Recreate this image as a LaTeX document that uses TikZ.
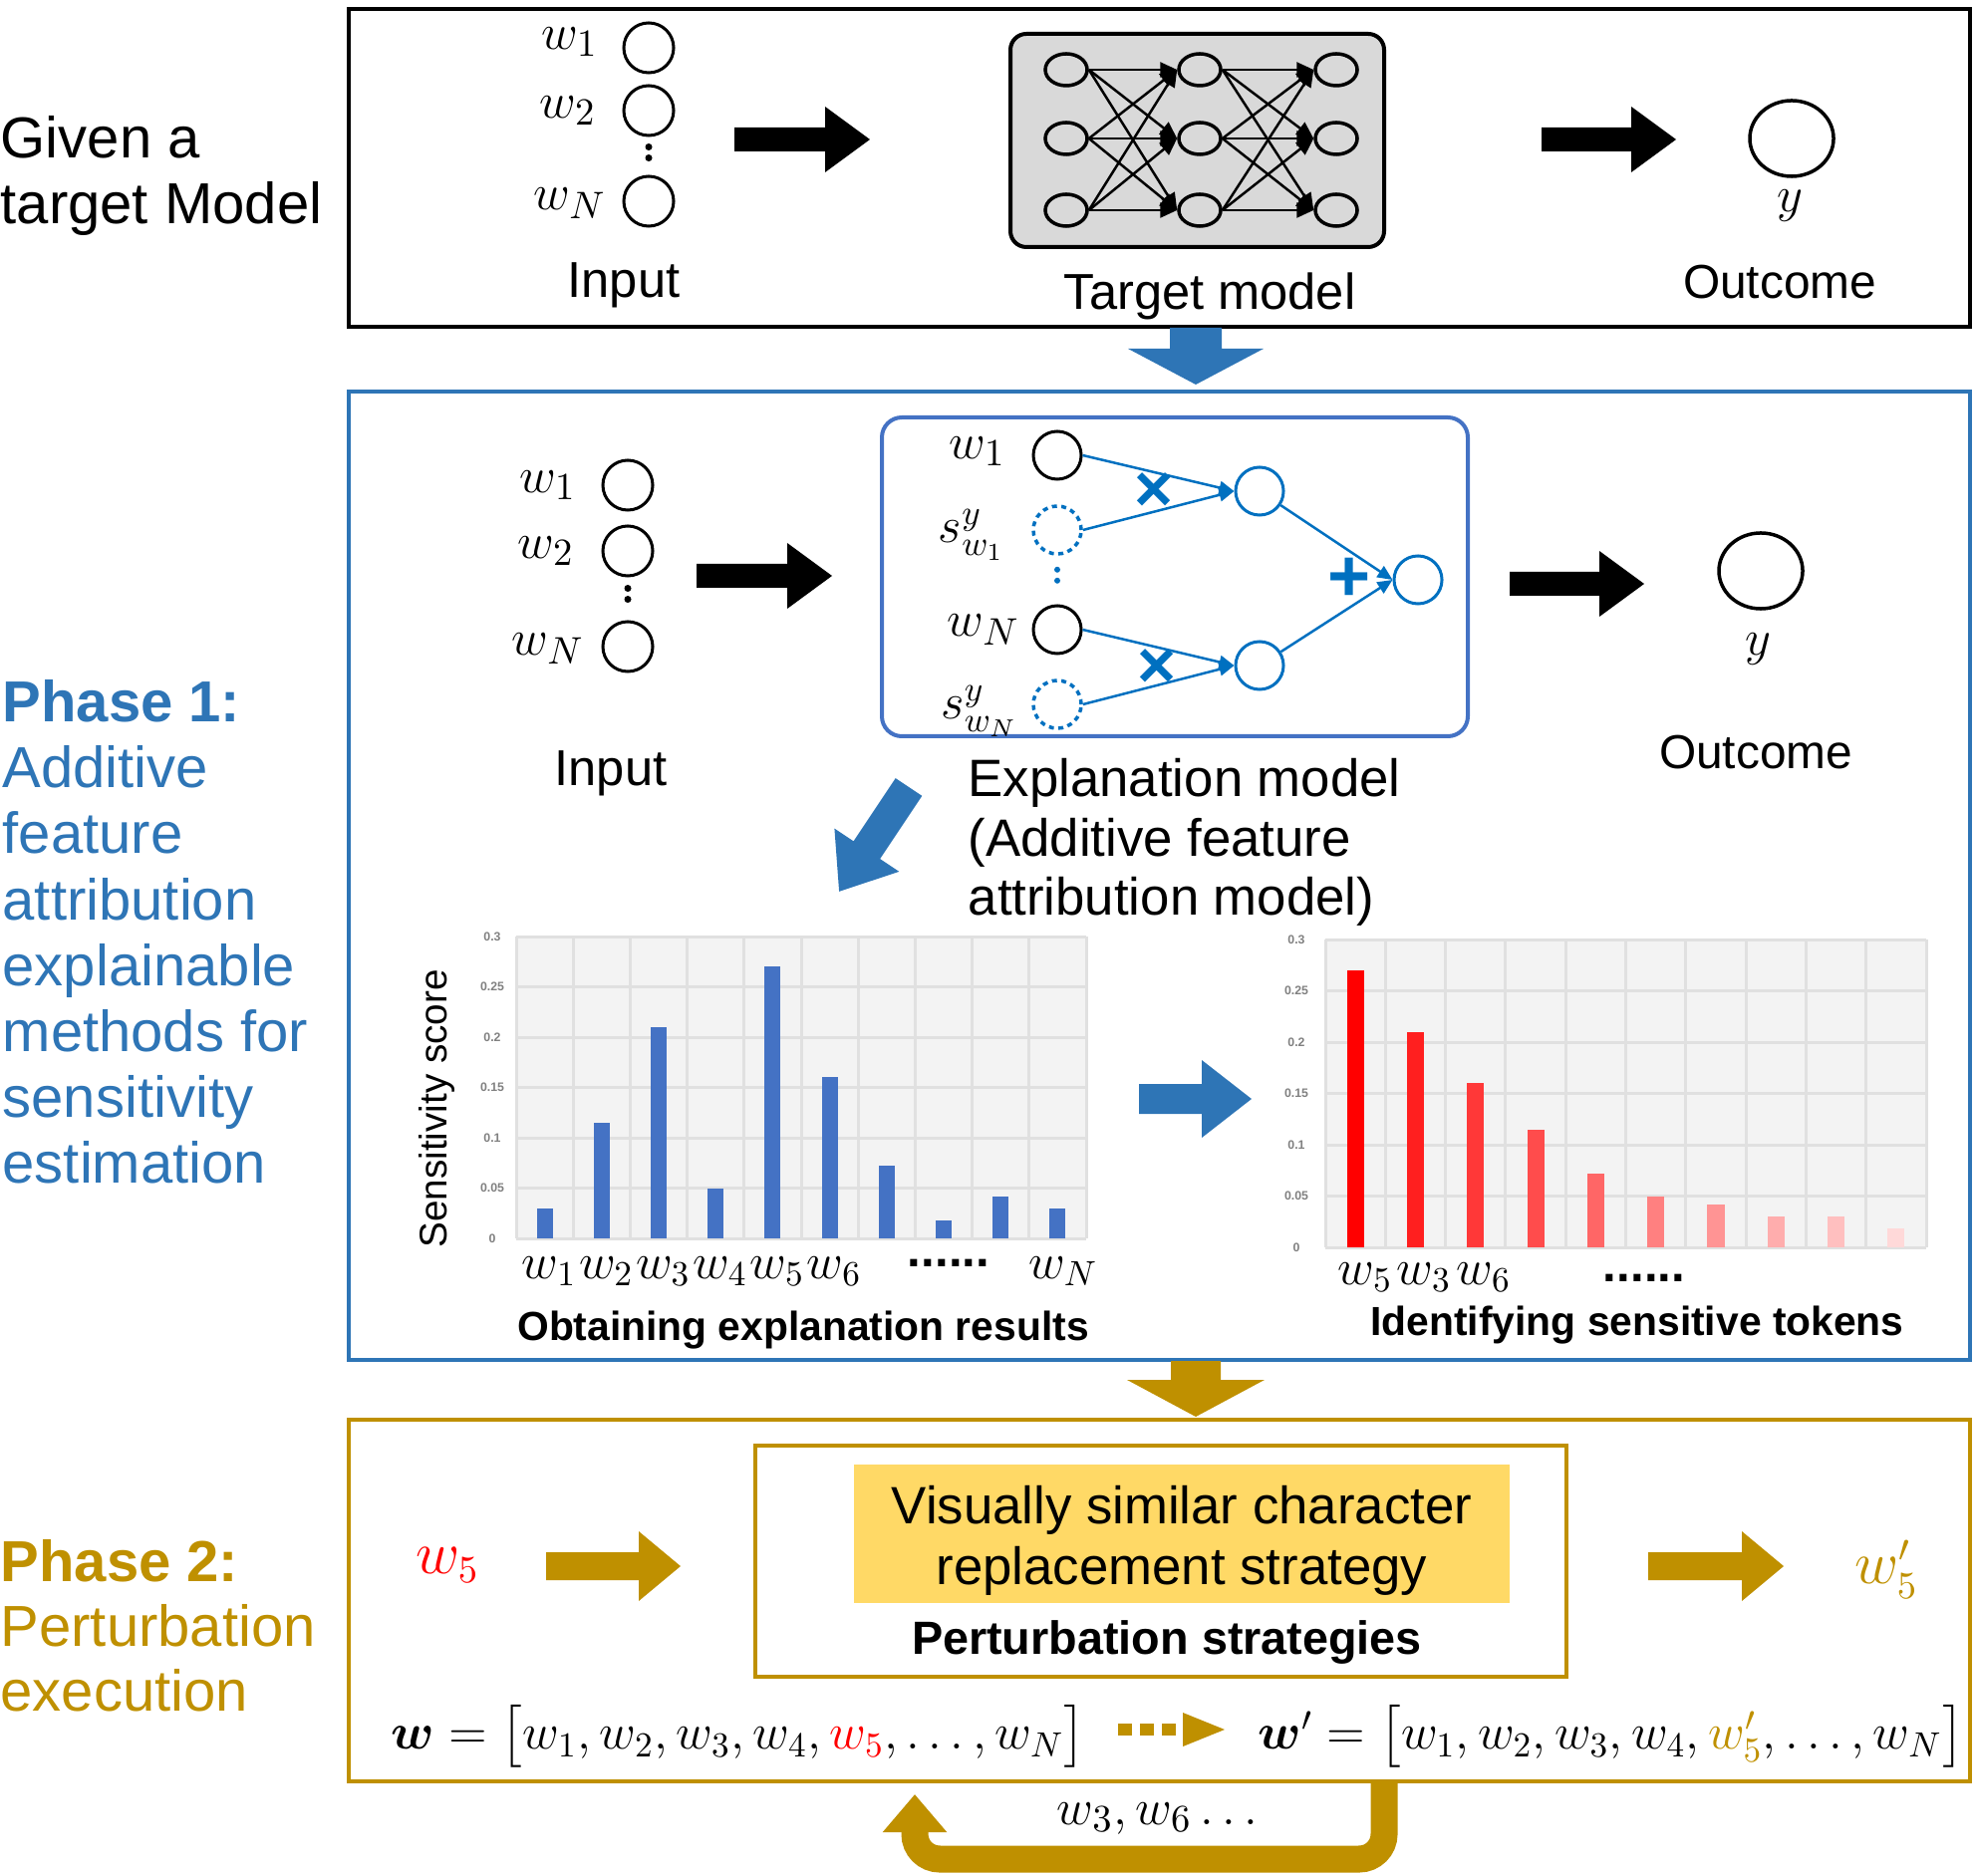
\documentclass[tikz,border=0pt]{standalone}
\usepackage[no-math]{fontspec}
\setmainfont{Liberation Sans}
\usepackage{amsmath,amssymb}
\usetikzlibrary{arrows.meta,positioning,shapes.geometric}

\definecolor{phaseblue}{HTML}{2E75B6}
\definecolor{boxblue}{HTML}{4472C4}
\definecolor{netblue}{HTML}{0070C0}
\definecolor{barblue}{HTML}{4472C4}
\definecolor{gold}{HTML}{BF9000}
\definecolor{stratyellow}{HTML}{FFD966}
\definecolor{netgray}{HTML}{D9D9D9}
\definecolor{chartbg}{HTML}{F3F3F3}
\definecolor{gridgray}{HTML}{E0E0E0}

\tikzset{
  pics/fatarrow/.style n args={4}{code={
    \fill (0,-#2) -- (#1-#4,-#2) -- (#1-#4,-#3) -- (#1,0) -- (#1-#4,#3) -- (#1-#4,#2) -- (0,#2) -- cycle;}}
}

\begin{document}
\begin{tikzpicture}[x=0.01cm,y=-0.01cm,
  every node/.style={inner sep=0pt},
  lbl/.style={font=\fontsize{14.4}{17}\selectfont},
  mlbl/.style={font=\fontsize{15}{18}\selectfont},
  neuron/.style={circle,draw,line width=0.3mm,minimum size=5mm},
  unit/.style={ellipse,draw,line width=0.35mm,minimum width=4.2mm,minimum height=3.2mm},
  xunit/.style={circle,draw=netblue,line width=0.3mm,minimum size=4.8mm},
  sdot/.style={circle,draw=netblue,line width=0.35mm,dash pattern=on 0.5mm off 0.45mm,minimum size=4.8mm},
  netedge/.style={line width=0.25mm,-{Triangle[length=1.7mm,width=1.5mm]}},
  xedge/.style={netblue,line width=0.25mm,-{Triangle[length=1.5mm,width=1.3mm]}},
  dotline/.style={line width=0.7mm,line cap=round,dash pattern=on 0pt off 1.1mm},
  gridline/.style={gridgray,line width=0.3mm},
  ticklbl/.style={gray,font=\fontsize{3.5}{4}\selectfont\bfseries},
  oplbl/.style={text=netblue,font=\fontsize{19}{20}\selectfont\bfseries},
  ylbl/.style={ellipse,draw,line width=0.35mm,minimum width=8.4mm,minimum height=7.6mm}]
\useasboundingbox (0,0) rectangle (1983,1883);

% given a target model
\draw[line width=0.45mm] (350,9) rectangle (1977,328);
\node[anchor=north west,align=left,font=\fontsize{16.5}{18.8}\selectfont] (given) at (0,116) {Given a\\target Model};

\node[neuron] (tw1) at (651,48) {};
\node[neuron] (tw2) at (651,111) {};
\node[neuron] (twN) at (651,202) {};
\draw[dotline] ([yshift=-1mm]tw2.south) -- ([yshift=1mm]twN.north);
\node[mlbl] at (572,42) {$w_1$};
\node[mlbl] at (570,111) {$w_2$};
\node[mlbl] at (572,204) {$w_N$};
\node[lbl] (tinput) at (626,286) {Input};
\pic[black] at (737,140) {fatarrow={136}{12}{33}{45}};

\draw[fill=netgray,line width=0.4mm,rounded corners=1.6mm] (1014,34) rectangle (1389,248);
\foreach \c/\x in {a/1070,b/1204,c/1341}
  \foreach \r/\y in {1/70,2/139,3/211}
    \node[unit] (\c\r) at (\x,\y) {};
\foreach \r in {1,2,3}
  \foreach \s in {1,2,3} {
    \draw[netedge] (a\r.east) -- (b\s.west);
    \draw[netedge] (b\r.east) -- (c\s.west);
  }
\node[lbl] (tmodel) at (1214,297) {Target model};
\pic[black] at (1547,140) {fatarrow={135}{12}{33}{45}};
\node[ylbl] (ty) at (1798,139) {};
\node[mlbl] at (1796,207) {$y$};
\node[font=\fontsize{13.6}{16}\selectfont] (tout) at (1786,283) {Outcome};

\pic[phaseblue,rotate=-90] at (1200,329) {fatarrow={57}{26}{68}{36}};

% phase 1
\draw[phaseblue,line width=0.45mm] (350,393) rectangle (1977,1365);
\node[anchor=north west,align=left,text=phaseblue,font=\fontsize{16.5}{18.8}\selectfont] (phaseone) at (2,682)
  {\textbf{Phase 1:}\\Additive\\feature\\attribution\\explainable\\methods for\\sensitivity\\estimation};

\node[neuron] (pw1) at (630,487) {};
\node[neuron] (pw2) at (630,553) {};
\node[neuron] (pwN) at (630,649) {};
\draw[dotline] ([yshift=-1.1mm]pw2.south) -- ([yshift=1.1mm]pwN.north);
\node[mlbl] at (550,487) {$w_1$};
\node[mlbl] at (548,553) {$w_2$};
\node[mlbl] at (550,651) {$w_N$};
\node[lbl] (pinput) at (613,776) {Input};
\pic[black] at (699,578) {fatarrow={136}{12}{33}{45}};

\draw[boxblue,line width=0.4mm,rounded corners=2mm] (885,419) rectangle (1473,739);
\node[neuron,minimum size=4.8mm] (ew1) at (1061,457) {};
\node[sdot] (es1) at (1061,532) {};
\node[neuron,minimum size=4.8mm] (ewN) at (1061,632) {};
\node[sdot] (esN) at (1061,707) {};
\node[xunit] (em1) at (1264,493) {};
\node[xunit] (em2) at (1264,668) {};
\node[xunit] (eout) at (1423,582) {};
\draw[dotline,netblue,line width=0.6mm] ([yshift=-1.4mm]es1.south) -- ([yshift=1.4mm]ewN.north);
\draw[xedge] (ew1.east) -- (em1.west);
\draw[xedge] (es1.east) -- (em1.west);
\draw[xedge] (ewN.east) -- (em2.west);
\draw[xedge] (esN.east) -- (em2.west);
\draw[xedge] (em1) -- (eout.west);
\draw[xedge] (em2) -- (eout.west);
\node[mlbl] at (981,453) {$w_1$};
\node[font=\fontsize{14.5}{17}\selectfont] at (975,537) {$s^{y}_{w_1}$};
\node[mlbl] at (987,632) {$w_N$};
\node[font=\fontsize{14.5}{17}\selectfont] at (983,714) {$s^{y}_{w_N}$};
\node[oplbl] at (1158,494) {×};
\node[oplbl] at (1161,671) {×};
\node[oplbl,font=\fontsize{21}{22}\selectfont\bfseries] at (1354,582) {+};

\pic[black] at (1515,586) {fatarrow={135}{12}{33}{45}};
\node[ylbl] (py) at (1767,573) {};
\node[mlbl] at (1764,652) {$y$};
\node[font=\fontsize{13.6}{16}\selectfont] (pout) at (1762,755) {Outcome};

\node[anchor=north west,align=left,font=\fontsize{15}{16.8}\selectfont] (explain) at (971,761)
  {Explanation model\\(Additive feature\\attribution model)};
\pic[phaseblue,rotate=-123.7] at (912,790) {fatarrow={126}{16}{39}{50}};

% explanation results
\fill[chartbg] (518,940) rectangle (1090,1243);
\foreach \k in {0,...,6}
  \draw[gridline] (518,1243-50.5*\k) -- (1090,1243-50.5*\k);
\foreach \k in {0,...,10}
  \draw[gridline] (518+57.2*\k,940) -- (518+57.2*\k,1243);
\foreach \v [count=\i] in {0.03,0.115,0.21,0.05,0.27,0.16,0.072,0.018,0.042,0.03}
  \fill[barblue] (518+57.2*\i-36.6,1243) rectangle (518+57.2*\i-20.6,1243-1010*\v);
\foreach \t [count=\k from 0] in {0,0.05,0.1,0.15,0.2,0.25,0.3}
  \node[ticklbl] at (494,1243-50.5*\k) {\t};
\node[rotate=90,font=\fontsize{11}{13}\selectfont] (sscore) at (438,1113) {Sensitivity score};
\foreach \i in {1,...,6}
  \node[font=\fontsize{14}{16}\selectfont] at (518+57.2*\i-24,1276) {$w_{\i}$};
\node[font=\fontsize{14}{16}\selectfont] at (1067,1276) {$w_N$};
\node[font=\fontsize{14}{16}\selectfont\bfseries] at (952,1268) {......};
\node[font=\fontsize{11.6}{14}\selectfont\bfseries] (obtain) at (806,1335) {Obtaining explanation results};

\pic[phaseblue] at (1143,1103) {fatarrow={113}{15}{39}{50}};

% sensitive tokens
\fill[chartbg] (1330,943) rectangle (1933,1252);
\foreach \k in {0,...,6}
  \draw[gridline] (1330,1252-51.5*\k) -- (1933,1252-51.5*\k);
\foreach \k in {0,...,10}
  \draw[gridline] (1330+60.3*\k,943) -- (1330+60.3*\k,1252);
\foreach \v/\o [count=\i] in {0.27/100,0.21/88,0.16/78,0.115/70,0.072/60,0.05/50,0.042/42,0.03/32,0.03/25,0.018/15}
  \fill[red!\o] (1330+60.3*\i-38.7,1252) rectangle (1330+60.3*\i-21.6,1252-1030*\v);
\foreach \t [count=\k from 0] in {0,0.05,0.1,0.15,0.2,0.25,0.3}
  \node[ticklbl] at (1301,1252-51.5*\k) {\t};
\node[font=\fontsize{14}{16}\selectfont] at (1370,1282) {$w_5$};
\node[font=\fontsize{14}{16}\selectfont] at (1429,1282) {$w_3$};
\node[font=\fontsize{14}{16}\selectfont] at (1489,1282) {$w_6$};
\node[font=\fontsize{14}{16}\selectfont\bfseries] at (1650,1283) {......};
\node[font=\fontsize{11.6}{14}\selectfont\bfseries] (identify) at (1643,1330) {Identifying sensitive tokens};

\pic[gold,rotate=-90] at (1200,1366) {fatarrow={56}{25}{69}{37}};

% phase 2
\draw[gold,line width=0.45mm] (350,1425) rectangle (1977,1788);
\node[anchor=north west,align=left,text=gold,font=\fontsize{16.5}{18.4}\selectfont] (phasetwo) at (0,1545)
  {\textbf{Phase 2:}\\Perturbation\\execution};

\node[text=red,font=\fontsize{16}{18}\selectfont] (ws) at (449,1571) {$w_5$};
\pic[gold] at (548,1572) {fatarrow={135}{14}{35}{42}};
\draw[gold,line width=0.35mm] (758,1451) rectangle (1572,1683);
\fill[stratyellow] (857,1470) rectangle (1515,1609);
\node[align=center,font=\fontsize{15}{17.4}\selectfont] (strategy) at (1186,1546)
  {Visually similar character\\replacement strategy};
\node[font=\fontsize{13.3}{15}\selectfont\bfseries] (pstrat) at (1171,1648) {Perturbation strategies};
\pic[gold] at (1654,1572) {fatarrow={136}{14}{35}{42}};
\node[text=gold,font=\fontsize{16}{18}\selectfont] (wsp) at (1893,1575) {$w'_5$};

\node[anchor=west,font=\fontsize{14.9}{18}\selectfont] (eqw) at (392,1743)
  {$\boldsymbol{w} = \big[w_1, w_2, w_3, w_4, \textcolor{red}{w_5}, \dots, w_N\big]$};
\node[anchor=west,font=\fontsize{14.9}{18}\selectfont] (eqwp) at (1262,1743)
  {$\boldsymbol{w}' = \big[w_1, w_2, w_3, w_4, \textcolor{gold}{w'_5}, \dots, w_N\big]$};
\coordinate (dashfrom) at (1122,1736);
\coordinate (dashto) at (1190,1736);
\draw[gold,line width=1.2mm,dash pattern=on 1.4mm off 0.8mm] (dashfrom) -- (dashto);
\fill[gold] (1187,1719) -- (1229,1736) -- (1187,1753) -- cycle;

\coordinate (loopfrom) at (1389,1788);
\coordinate (loopto) at (918,1801);
\draw[gold,line width=2.7mm,rounded corners=2.5mm,-{Triangle[length=3.8mm,width=6.2mm]}]
  (loopfrom) -- (1389,1866) -- (918,1866) -- (loopto);
\node[font=\fontsize{15}{18}\selectfont] (loopnote) at (1166,1825) {$w_3, w_6 \dots$};
\end{tikzpicture}
\end{document}
